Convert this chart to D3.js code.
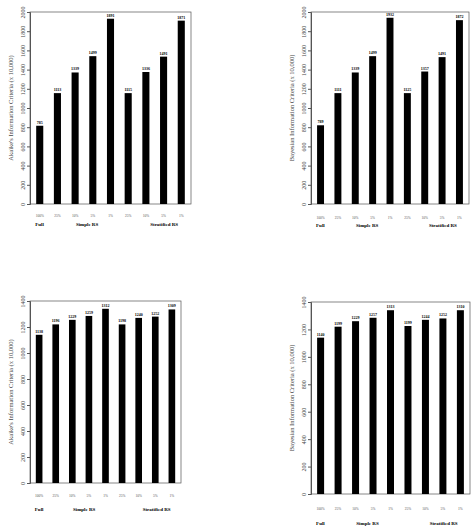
<!DOCTYPE html>
<html><head><meta charset="utf-8">
<script src="https://cdn.jsdelivr.net/npm/d3@7"></script>
<style>body{margin:0;background:#fff}text{font-family:"Liberation Serif",serif}</style>
</head><body><svg id="c" width="474" height="530"></svg>
<script>
const categories = ['100%', '25%', '10%', '5%', '1%', '25%', '10%', '5%', '1%'];
const groups = [{name: 'Full', at: 0}, {name: 'Simple RS', at: 2.3}, {name: 'Stratified RS', at: 6.5}];
const aicTopBars = [815, 1155, 1370, 1540, 1930, 1155, 1375, 1535, 1910];
const aicTopLabels = ['785', '1113', '1339', '1499', '1891', '1115', '1336', '1491', '1871'];
const bicTopBars = [820, 1155, 1370, 1540, 1940, 1155, 1380, 1530, 1915];
const bicTopLabels = ['789', '1111', '1339', '1499', '1932', '1125', '1357', '1491', '1872'];
const aicBotBars = [1140, 1220, 1255, 1285, 1340, 1220, 1270, 1280, 1335];
const aicBotLabels = ['1138', '1196', '1229', '1259', '1312', '1198', '1240', '1252', '1309'];
const bicBotBars = [1140, 1220, 1260, 1285, 1340, 1225, 1270, 1280, 1340];
const bicBotLabels = ['1140', '1199', '1229', '1257', '1313', '1199', '1244', '1252', '1310'];

const svg = d3.select('#c');

function panel(o) {
    const g = svg.append('g');
    const x = d3.scaleBand().domain(d3.range(categories.length)).range([o.x0, o.x1]).paddingInner(0.6).paddingOuter(0.35);
    const y = d3.scaleLinear().domain([0, o.max]).range([o.y1, o.y0]);
    g.append('rect').attr('x', o.x0).attr('y', o.y0).attr('width', o.x1 - o.x0).attr('height', o.y1 - o.y0)
        .attr('fill', 'none').attr('stroke', '#555').attr('stroke-width', 0.7);
    const ax = g.append('g').attr('transform', `translate(${o.x0},0)`)
        .call(d3.axisLeft(y).ticks(o.max / 200).tickFormat(d3.format('d')).tickSize(3));
    ax.select('.domain').attr('stroke', '#555');
    ax.selectAll('line').attr('stroke', '#555');
    ax.selectAll('text').attr('font-size', 6).attr('fill', '#444').attr('font-family', 'Liberation Serif')
        .attr('x', 0).attr('y', -5).attr('dy', 0).attr('text-anchor', 'middle').attr('transform', 'rotate(-90)');
    g.append('text').attr('transform', `translate(${o.x0 - 17},${(o.y0 + o.y1) / 2}) rotate(-90)`)
        .attr('text-anchor', 'middle').attr('font-size', 6.5).attr('fill', '#444').text(o.title);
    g.selectAll('.bar').data(o.bars).join('rect').attr('class', 'bar')
        .attr('x', (d, i) => x(i)).attr('width', x.bandwidth())
        .attr('y', d => y(d)).attr('height', d => o.y1 - y(d)).attr('fill', '#000');
    g.selectAll('.lab').data(o.labels).join('text').attr('class', 'lab')
        .attr('x', (d, i) => x(i) + x.bandwidth() / 2).attr('y', (d, i) => y(o.bars[i]) - 2)
        .attr('text-anchor', 'middle').attr('font-size', 4).attr('font-weight', 'bold').attr('fill', '#000').text(d => d);
    g.selectAll('.cat').data(categories).join('text').attr('class', 'cat')
        .attr('x', (d, i) => x(i) + x.bandwidth() / 2).attr('y', o.catY)
        .attr('text-anchor', 'middle').attr('font-size', 3.5).attr('fill', '#555').text(d => d);
    g.selectAll('.grp').data(groups).join('text').attr('class', 'grp')
        .attr('x', d => x(0) + d.at * x.step() - 1).attr('y', o.grpY)
        .attr('font-size', 5).attr('font-weight', 'bold').text(d => d.name);
}

panel({x0: 30, x1: 191, y0: 12, y1: 204, max: 2000, bars: aicTopBars, labels: aicTopLabels,
    title: "Akaike's Information Criteria (x 10,000)", catY: 217, grpY: 226});
panel({x0: 311, x1: 469, y0: 12, y1: 204, max: 2000, bars: bicTopBars, labels: bicTopLabels,
    title: 'Bayesian Information Criteria (x 10,000)', catY: 219, grpY: 227});
panel({x0: 30, x1: 181, y0: 301, y1: 483, max: 1400, bars: aicBotBars, labels: aicBotLabels,
    title: "Akaike's Information Criteria (x 10,000)", catY: 497, grpY: 511});
panel({x0: 311, x1: 470, y0: 302, y1: 494, max: 1400, bars: bicBotBars, labels: bicBotLabels,
    title: 'Bayesian Information Criteria (x 10,000)', catY: 510, grpY: 525});
</script></body></html>
